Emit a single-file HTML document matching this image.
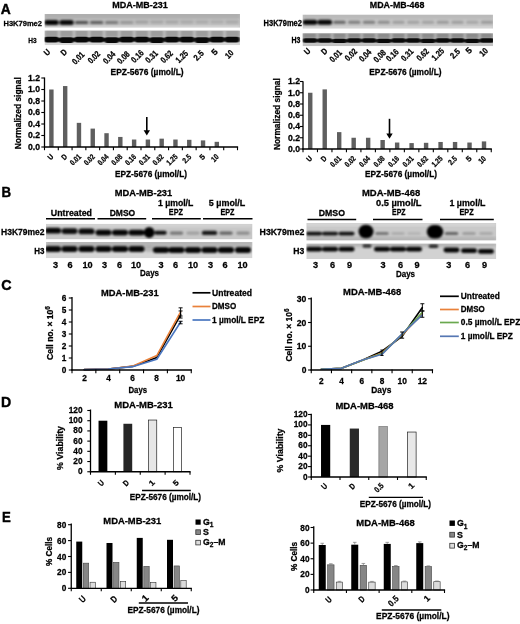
<!DOCTYPE html>
<html><head><meta charset="utf-8"><title>Figure</title>
<style>
html,body{margin:0;padding:0;background:#fff;}
body{width:520px;height:624px;overflow:hidden;}
svg{display:block;}
text{font-family:"Liberation Sans",sans-serif;font-weight:bold;fill:#000;stroke:#000;stroke-width:0.26px;}
text.P{stroke-width:0.42px;}
</style></head><body>
<svg width="520" height="624" viewBox="0 0 520 624">
<defs>
<filter id="b1" x="-20%" y="-50%" width="140%" height="200%"><feGaussianBlur stdDeviation="1.1 0.9"/></filter>
<filter id="b2" x="-30%" y="-30%" width="160%" height="160%"><feGaussianBlur stdDeviation="1.6"/></filter>
<filter id="b0" x="-20%" y="-50%" width="140%" height="200%"><feGaussianBlur stdDeviation="0.8 0.6"/></filter>
<filter id="soft"><feGaussianBlur stdDeviation="0.35"/></filter>
</defs>
<rect width="520" height="624" fill="#fff"/>
<text x="0.70" y="14.40" font-size="14.3" class="P" textLength="10.00" lengthAdjust="spacingAndGlyphs">A</text>
<text x="1.60" y="196.70" font-size="14.4" class="P" textLength="9.60" lengthAdjust="spacingAndGlyphs">B</text>
<text x="1.30" y="290.00" font-size="14.3" class="P" textLength="10.30" lengthAdjust="spacingAndGlyphs">C</text>
<text x="1.00" y="407.30" font-size="14.4" class="P" textLength="10.20" lengthAdjust="spacingAndGlyphs">D</text>
<text x="2.10" y="522.00" font-size="14.4" class="P" textLength="8.80" lengthAdjust="spacingAndGlyphs">E</text>
<text x="112.30" y="8.20" font-size="9" textLength="55.60" lengthAdjust="spacingAndGlyphs">MDA-MB-231</text>
<text x="3.50" y="26.00" font-size="8" textLength="38.50" lengthAdjust="spacingAndGlyphs">H3K79me2</text>
<text x="28.30" y="42.60" font-size="8" textLength="8.40" lengthAdjust="spacingAndGlyphs">H3</text>
<clipPath id="c44_14"><rect x="44.5" y="14" width="195.5" height="13.8"/></clipPath>
<g clip-path="url(#c44_14)">
<rect x="44.50" y="14.00" width="195.50" height="13.80" fill="#c3c3c3" />
<rect x="44.50" y="26.30" width="195.50" height="2.70" fill="#fff" opacity="0.45" filter="url(#b2)"/>
<rect x="44.50" y="12.00" width="195.50" height="7.00" fill="#666" opacity="0.22" filter="url(#b2)"/>
<g filter="url(#b1)">
<rect x="44.30" y="20.00" width="14.40" height="5.00" rx="2.50" fill="#000" opacity="0.98"/>
<rect x="59.35" y="20.00" width="14.40" height="5.00" rx="2.50" fill="#000" opacity="0.95"/>
<rect x="74.85" y="20.90" width="13.50" height="3.20" rx="1.60" fill="#000" opacity="0.6"/>
<rect x="89.90" y="20.90" width="13.50" height="3.20" rx="1.60" fill="#000" opacity="0.52"/>
<rect x="104.95" y="20.90" width="13.50" height="3.20" rx="1.60" fill="#000" opacity="0.38"/>
<rect x="120.00" y="21.20" width="13.50" height="2.60" rx="1.30" fill="#000" opacity="0.27"/>
<rect x="135.05" y="20.80" width="13.50" height="2.60" rx="1.30" fill="#000" opacity="0.2"/>
<rect x="150.10" y="20.80" width="13.50" height="2.60" rx="1.30" fill="#000" opacity="0.17"/>
<rect x="165.15" y="20.80" width="13.50" height="2.60" rx="1.30" fill="#000" opacity="0.17"/>
<rect x="180.20" y="20.80" width="13.50" height="2.60" rx="1.30" fill="#000" opacity="0.15"/>
<rect x="195.25" y="20.80" width="13.50" height="2.60" rx="1.30" fill="#000" opacity="0.14"/>
<rect x="210.30" y="20.80" width="13.50" height="2.60" rx="1.30" fill="#000" opacity="0.13"/>
<rect x="225.35" y="20.80" width="13.50" height="2.60" rx="1.30" fill="#000" opacity="0.15"/>
</g></g>
<clipPath id="c44_30"><rect x="44.5" y="30.6" width="195.5" height="14.600000000000001"/></clipPath>
<g clip-path="url(#c44_30)">
<rect x="44.50" y="30.60" width="195.50" height="14.60" fill="#d6d6d6" />
<rect x="44.50" y="29.00" width="195.50" height="9.00" fill="#777" opacity="0.6" filter="url(#b2)"/>
<g filter="url(#b0)">
<rect x="57.90" y="30.60" width="2.20" height="8.00" fill="#fff" opacity="0.4"/>
<rect x="72.95" y="30.60" width="2.20" height="8.00" fill="#fff" opacity="0.4"/>
<rect x="88.00" y="30.60" width="2.20" height="8.00" fill="#fff" opacity="0.4"/>
<rect x="103.05" y="30.60" width="2.20" height="8.00" fill="#fff" opacity="0.4"/>
<rect x="118.10" y="30.60" width="2.20" height="8.00" fill="#fff" opacity="0.4"/>
<rect x="133.15" y="30.60" width="2.20" height="8.00" fill="#fff" opacity="0.4"/>
<rect x="148.20" y="30.60" width="2.20" height="8.00" fill="#fff" opacity="0.4"/>
<rect x="163.25" y="30.60" width="2.20" height="8.00" fill="#fff" opacity="0.4"/>
<rect x="178.30" y="30.60" width="2.20" height="8.00" fill="#fff" opacity="0.4"/>
<rect x="193.35" y="30.60" width="2.20" height="8.00" fill="#fff" opacity="0.4"/>
<rect x="208.40" y="30.60" width="2.20" height="8.00" fill="#fff" opacity="0.4"/>
<rect x="223.45" y="30.60" width="2.20" height="8.00" fill="#fff" opacity="0.4"/>
</g>
<g filter="url(#b0)">
<rect x="43.80" y="36.80" width="15.40" height="5.60" rx="2.80" fill="#000" opacity="0.96"/>
<rect x="58.85" y="37.30" width="15.40" height="5.60" rx="2.80" fill="#000" opacity="0.96"/>
<rect x="73.90" y="36.80" width="15.40" height="5.60" rx="2.80" fill="#000" opacity="0.96"/>
<rect x="88.95" y="36.80" width="15.40" height="5.60" rx="2.80" fill="#000" opacity="0.96"/>
<rect x="104.00" y="37.30" width="15.40" height="5.60" rx="2.80" fill="#000" opacity="0.96"/>
<rect x="119.05" y="36.80" width="15.40" height="5.60" rx="2.80" fill="#000" opacity="0.96"/>
<rect x="134.10" y="36.80" width="15.40" height="5.60" rx="2.80" fill="#000" opacity="0.96"/>
<rect x="149.15" y="37.30" width="15.40" height="5.60" rx="2.80" fill="#000" opacity="0.96"/>
<rect x="164.20" y="36.80" width="15.40" height="5.60" rx="2.80" fill="#000" opacity="0.96"/>
<rect x="179.25" y="36.80" width="15.40" height="5.60" rx="2.80" fill="#000" opacity="0.96"/>
<rect x="194.30" y="37.30" width="15.40" height="5.60" rx="2.80" fill="#000" opacity="0.96"/>
<rect x="209.35" y="36.80" width="15.40" height="5.60" rx="2.80" fill="#000" opacity="0.96"/>
<rect x="224.40" y="36.80" width="15.40" height="5.60" rx="2.80" fill="#000" opacity="0.96"/>
</g></g>
<text transform="translate(50.80,52.60) rotate(-45)" x="-5.18" y="0" font-size="8.6" textLength="5.18" lengthAdjust="spacingAndGlyphs">U</text>
<text transform="translate(67.60,52.60) rotate(-45)" x="-5.18" y="0" font-size="8.6" textLength="5.18" lengthAdjust="spacingAndGlyphs">D</text>
<text transform="translate(85.00,55.30) rotate(-45)" x="-13.61" y="0" font-size="8.6" textLength="13.61" lengthAdjust="spacingAndGlyphs">0.01</text>
<text transform="translate(100.80,54.40) rotate(-45)" x="-13.61" y="0" font-size="8.6" textLength="13.61" lengthAdjust="spacingAndGlyphs">0.02</text>
<text transform="translate(116.00,54.80) rotate(-45)" x="-13.61" y="0" font-size="8.6" textLength="13.61" lengthAdjust="spacingAndGlyphs">0.04</text>
<text transform="translate(130.20,54.80) rotate(-45)" x="-13.61" y="0" font-size="8.6" textLength="13.61" lengthAdjust="spacingAndGlyphs">0.08</text>
<text transform="translate(144.20,53.60) rotate(-45)" x="-13.61" y="0" font-size="8.6" textLength="13.61" lengthAdjust="spacingAndGlyphs">0.16</text>
<text transform="translate(158.40,54.00) rotate(-45)" x="-13.61" y="0" font-size="8.6" textLength="13.61" lengthAdjust="spacingAndGlyphs">0.31</text>
<text transform="translate(173.50,53.90) rotate(-45)" x="-13.61" y="0" font-size="8.6" textLength="13.61" lengthAdjust="spacingAndGlyphs">0.62</text>
<text transform="translate(188.70,53.90) rotate(-45)" x="-13.61" y="0" font-size="8.6" textLength="13.61" lengthAdjust="spacingAndGlyphs">1.25</text>
<text transform="translate(204.40,53.90) rotate(-45)" x="-10.37" y="0" font-size="8.6" textLength="10.37" lengthAdjust="spacingAndGlyphs">2.5</text>
<text transform="translate(218.50,52.30) rotate(-45)" x="-5.18" y="0" font-size="8.6" textLength="5.18" lengthAdjust="spacingAndGlyphs">5</text>
<text transform="translate(234.20,53.40) rotate(-45)" x="-8.21" y="0" font-size="8.6" textLength="8.21" lengthAdjust="spacingAndGlyphs">10</text>
<text x="110.60" y="74.60" font-size="8.6" textLength="73.00" lengthAdjust="spacingAndGlyphs">EPZ-5676 (µmol/L)</text>
<text x="369.80" y="8.20" font-size="9" textLength="54.60" lengthAdjust="spacingAndGlyphs">MDA-MB-468</text>
<text x="263.60" y="25.70" font-size="8.2" textLength="38.30" lengthAdjust="spacingAndGlyphs">H3K79me2</text>
<text x="291.60" y="43.10" font-size="8.2" textLength="8.90" lengthAdjust="spacingAndGlyphs">H3</text>
<clipPath id="c302_14"><rect x="302.5" y="14.6" width="190.5" height="14.1"/></clipPath>
<g clip-path="url(#c302_14)">
<rect x="302.50" y="14.60" width="190.50" height="14.10" fill="#c8c8c8" />
<rect x="302.50" y="27.00" width="190.50" height="3.00" fill="#fff" opacity="0.35" filter="url(#b2)"/>
<rect x="302.50" y="13.00" width="190.50" height="6.00" fill="#666" opacity="0.15" filter="url(#b2)"/>
<g filter="url(#b1)">
<rect x="302.70" y="19.80" width="14.60" height="5.00" rx="2.50" fill="#000" opacity="0.98"/>
<rect x="317.45" y="19.80" width="14.60" height="5.00" rx="2.50" fill="#000" opacity="0.96"/>
<rect x="333.25" y="20.80" width="12.50" height="3.00" rx="1.50" fill="#000" opacity="0.5"/>
<rect x="348.00" y="20.80" width="12.50" height="3.00" rx="1.50" fill="#000" opacity="0.38"/>
<rect x="362.75" y="20.80" width="12.50" height="3.00" rx="1.50" fill="#000" opacity="0.38"/>
<rect x="377.50" y="20.80" width="12.50" height="3.00" rx="1.50" fill="#000" opacity="0.3"/>
<rect x="392.25" y="20.80" width="12.50" height="3.00" rx="1.50" fill="#000" opacity="0.22"/>
<rect x="407.00" y="20.80" width="12.50" height="3.00" rx="1.50" fill="#000" opacity="0.2"/>
<rect x="421.75" y="20.80" width="12.50" height="3.00" rx="1.50" fill="#000" opacity="0.2"/>
<rect x="436.50" y="20.80" width="12.50" height="3.00" rx="1.50" fill="#000" opacity="0.24"/>
<rect x="451.25" y="20.80" width="12.50" height="3.00" rx="1.50" fill="#000" opacity="0.22"/>
<rect x="466.00" y="20.80" width="12.50" height="3.00" rx="1.50" fill="#000" opacity="0.18"/>
<rect x="480.75" y="20.80" width="12.50" height="3.00" rx="1.50" fill="#000" opacity="0.24"/>
</g></g>
<clipPath id="c302_33"><rect x="302.5" y="33.2" width="190.5" height="13.0"/></clipPath>
<g clip-path="url(#c302_33)">
<rect x="302.50" y="33.20" width="190.50" height="13.00" fill="#c2c2c2" />
<rect x="302.50" y="32.00" width="190.50" height="7.00" fill="#666" opacity="0.6" filter="url(#b2)"/>
<g filter="url(#b0)">
<rect x="316.30" y="33.20" width="2.20" height="6.30" fill="#fff" opacity="0.4"/>
<rect x="331.05" y="33.20" width="2.20" height="6.30" fill="#fff" opacity="0.4"/>
<rect x="345.80" y="33.20" width="2.20" height="6.30" fill="#fff" opacity="0.4"/>
<rect x="360.55" y="33.20" width="2.20" height="6.30" fill="#fff" opacity="0.4"/>
<rect x="375.30" y="33.20" width="2.20" height="6.30" fill="#fff" opacity="0.4"/>
<rect x="390.05" y="33.20" width="2.20" height="6.30" fill="#fff" opacity="0.4"/>
<rect x="404.80" y="33.20" width="2.20" height="6.30" fill="#fff" opacity="0.4"/>
<rect x="419.55" y="33.20" width="2.20" height="6.30" fill="#fff" opacity="0.4"/>
<rect x="434.30" y="33.20" width="2.20" height="6.30" fill="#fff" opacity="0.4"/>
<rect x="449.05" y="33.20" width="2.20" height="6.30" fill="#fff" opacity="0.4"/>
<rect x="463.80" y="33.20" width="2.20" height="6.30" fill="#fff" opacity="0.4"/>
<rect x="478.55" y="33.20" width="2.20" height="6.30" fill="#fff" opacity="0.4"/>
</g>
<g filter="url(#b0)">
<rect x="302.50" y="38.30" width="15.00" height="4.40" rx="2.20" fill="#000" opacity="0.95"/>
<rect x="317.25" y="38.30" width="15.00" height="4.40" rx="2.20" fill="#000" opacity="0.95"/>
<rect x="332.00" y="38.70" width="15.00" height="4.40" rx="2.20" fill="#000" opacity="0.95"/>
<rect x="346.75" y="38.30" width="15.00" height="4.40" rx="2.20" fill="#000" opacity="0.95"/>
<rect x="361.50" y="38.30" width="15.00" height="4.40" rx="2.20" fill="#000" opacity="0.95"/>
<rect x="376.25" y="38.70" width="15.00" height="4.40" rx="2.20" fill="#000" opacity="0.95"/>
<rect x="391.00" y="38.30" width="15.00" height="4.40" rx="2.20" fill="#000" opacity="0.95"/>
<rect x="405.75" y="38.30" width="15.00" height="4.40" rx="2.20" fill="#000" opacity="0.95"/>
<rect x="420.50" y="38.70" width="15.00" height="4.40" rx="2.20" fill="#000" opacity="0.95"/>
<rect x="435.25" y="38.30" width="15.00" height="4.40" rx="2.20" fill="#000" opacity="0.95"/>
<rect x="450.00" y="38.30" width="15.00" height="4.40" rx="2.20" fill="#000" opacity="0.95"/>
<rect x="464.75" y="38.70" width="15.00" height="4.40" rx="2.20" fill="#000" opacity="0.95"/>
<rect x="479.50" y="38.30" width="15.00" height="4.40" rx="2.20" fill="#000" opacity="0.95"/>
</g></g>
<text transform="translate(311.20,51.70) rotate(-45)" x="-5.18" y="0" font-size="8.6" textLength="5.18" lengthAdjust="spacingAndGlyphs">U</text>
<text transform="translate(328.20,51.70) rotate(-45)" x="-5.18" y="0" font-size="8.6" textLength="5.18" lengthAdjust="spacingAndGlyphs">D</text>
<text transform="translate(342.60,53.20) rotate(-45)" x="-13.61" y="0" font-size="8.6" textLength="13.61" lengthAdjust="spacingAndGlyphs">0.01</text>
<text transform="translate(357.80,51.90) rotate(-45)" x="-13.61" y="0" font-size="8.6" textLength="13.61" lengthAdjust="spacingAndGlyphs">0.02</text>
<text transform="translate(372.00,52.70) rotate(-45)" x="-13.61" y="0" font-size="8.6" textLength="13.61" lengthAdjust="spacingAndGlyphs">0.04</text>
<text transform="translate(386.60,53.30) rotate(-45)" x="-13.61" y="0" font-size="8.6" textLength="13.61" lengthAdjust="spacingAndGlyphs">0.08</text>
<text transform="translate(399.20,52.50) rotate(-45)" x="-13.61" y="0" font-size="8.6" textLength="13.61" lengthAdjust="spacingAndGlyphs">0.16</text>
<text transform="translate(414.00,52.10) rotate(-45)" x="-13.61" y="0" font-size="8.6" textLength="13.61" lengthAdjust="spacingAndGlyphs">0.31</text>
<text transform="translate(429.50,52.00) rotate(-45)" x="-13.61" y="0" font-size="8.6" textLength="13.61" lengthAdjust="spacingAndGlyphs">0.62</text>
<text transform="translate(444.70,51.60) rotate(-45)" x="-13.61" y="0" font-size="8.6" textLength="13.61" lengthAdjust="spacingAndGlyphs">1.25</text>
<text transform="translate(460.80,52.00) rotate(-45)" x="-10.37" y="0" font-size="8.6" textLength="10.37" lengthAdjust="spacingAndGlyphs">2.5</text>
<text transform="translate(472.70,50.80) rotate(-45)" x="-5.18" y="0" font-size="8.6" textLength="5.18" lengthAdjust="spacingAndGlyphs">5</text>
<text transform="translate(488.60,51.30) rotate(-45)" x="-8.21" y="0" font-size="8.6" textLength="8.21" lengthAdjust="spacingAndGlyphs">10</text>
<text x="369.30" y="74.80" font-size="8.6" textLength="72.20" lengthAdjust="spacingAndGlyphs">EPZ-5676 (µmol/L)</text>
<rect x="49.19" y="89.50" width="4.40" height="57.50" fill="#5f5f5f" />
<rect x="62.98" y="86.05" width="4.40" height="60.95" fill="#5f5f5f" />
<rect x="76.76" y="122.85" width="4.40" height="24.15" fill="#5f5f5f" />
<rect x="90.55" y="128.60" width="4.40" height="18.40" fill="#5f5f5f" />
<rect x="104.34" y="133.20" width="4.40" height="13.80" fill="#5f5f5f" />
<rect x="118.12" y="136.94" width="4.40" height="10.06" fill="#5f5f5f" />
<rect x="131.91" y="139.53" width="4.40" height="7.48" fill="#5f5f5f" />
<rect x="145.69" y="139.53" width="4.40" height="7.48" fill="#5f5f5f" />
<rect x="159.48" y="138.66" width="4.40" height="8.34" fill="#5f5f5f" />
<rect x="173.26" y="139.53" width="4.40" height="7.48" fill="#5f5f5f" />
<rect x="187.05" y="139.81" width="4.40" height="7.19" fill="#5f5f5f" />
<rect x="200.84" y="140.39" width="4.40" height="6.61" fill="#5f5f5f" />
<rect x="214.62" y="141.82" width="4.40" height="5.17" fill="#5f5f5f" />
<line x1="44.50" y1="77.50" x2="44.50" y2="147.60" stroke="#000" stroke-width="1.3" />
<line x1="43.90" y1="147.00" x2="238.10" y2="147.00" stroke="#000" stroke-width="1.3" />
<line x1="41.30" y1="147.00" x2="44.50" y2="147.00" stroke="#000" stroke-width="1.1" />
<text x="28.00" y="149.90" font-size="8.2" textLength="12.00" lengthAdjust="spacingAndGlyphs">0.0</text>
<line x1="41.30" y1="135.50" x2="44.50" y2="135.50" stroke="#000" stroke-width="1.1" />
<text x="28.00" y="138.40" font-size="8.2" textLength="12.00" lengthAdjust="spacingAndGlyphs">0.2</text>
<line x1="41.30" y1="124.00" x2="44.50" y2="124.00" stroke="#000" stroke-width="1.1" />
<text x="28.00" y="126.90" font-size="8.2" textLength="12.00" lengthAdjust="spacingAndGlyphs">0.4</text>
<line x1="41.30" y1="112.50" x2="44.50" y2="112.50" stroke="#000" stroke-width="1.1" />
<text x="28.00" y="115.40" font-size="8.2" textLength="12.00" lengthAdjust="spacingAndGlyphs">0.6</text>
<line x1="41.30" y1="101.00" x2="44.50" y2="101.00" stroke="#000" stroke-width="1.1" />
<text x="28.00" y="103.90" font-size="8.2" textLength="12.00" lengthAdjust="spacingAndGlyphs">0.8</text>
<line x1="41.30" y1="89.50" x2="44.50" y2="89.50" stroke="#000" stroke-width="1.1" />
<text x="28.00" y="92.40" font-size="8.2" textLength="12.00" lengthAdjust="spacingAndGlyphs">1.0</text>
<line x1="41.30" y1="78.00" x2="44.50" y2="78.00" stroke="#000" stroke-width="1.1" />
<text x="28.00" y="80.90" font-size="8.2" textLength="12.00" lengthAdjust="spacingAndGlyphs">1.2</text>
<line x1="44.50" y1="147.00" x2="44.50" y2="150.20" stroke="#000" stroke-width="1.1" />
<line x1="58.29" y1="147.00" x2="58.29" y2="150.20" stroke="#000" stroke-width="1.1" />
<line x1="72.07" y1="147.00" x2="72.07" y2="150.20" stroke="#000" stroke-width="1.1" />
<line x1="85.86" y1="147.00" x2="85.86" y2="150.20" stroke="#000" stroke-width="1.1" />
<line x1="99.64" y1="147.00" x2="99.64" y2="150.20" stroke="#000" stroke-width="1.1" />
<line x1="113.43" y1="147.00" x2="113.43" y2="150.20" stroke="#000" stroke-width="1.1" />
<line x1="127.21" y1="147.00" x2="127.21" y2="150.20" stroke="#000" stroke-width="1.1" />
<line x1="141.00" y1="147.00" x2="141.00" y2="150.20" stroke="#000" stroke-width="1.1" />
<line x1="154.79" y1="147.00" x2="154.79" y2="150.20" stroke="#000" stroke-width="1.1" />
<line x1="168.57" y1="147.00" x2="168.57" y2="150.20" stroke="#000" stroke-width="1.1" />
<line x1="182.36" y1="147.00" x2="182.36" y2="150.20" stroke="#000" stroke-width="1.1" />
<line x1="196.14" y1="147.00" x2="196.14" y2="150.20" stroke="#000" stroke-width="1.1" />
<line x1="209.93" y1="147.00" x2="209.93" y2="150.20" stroke="#000" stroke-width="1.1" />
<line x1="223.71" y1="147.00" x2="223.71" y2="150.20" stroke="#000" stroke-width="1.1" />
<line x1="237.50" y1="147.00" x2="237.50" y2="150.20" stroke="#000" stroke-width="1.1" />
<text transform="translate(20.50,113.25) rotate(-90)" x="-36.00" y="0" font-size="9" textLength="72.00" lengthAdjust="spacingAndGlyphs">Normalized signal</text>
<text transform="translate(53.99,157.30) rotate(-45)" x="-4.56" y="0" font-size="7.8" textLength="4.56" lengthAdjust="spacingAndGlyphs">U</text>
<text transform="translate(67.78,157.30) rotate(-45)" x="-4.56" y="0" font-size="7.8" textLength="4.56" lengthAdjust="spacingAndGlyphs">D</text>
<text transform="translate(81.56,157.30) rotate(-45)" x="-11.97" y="0" font-size="7.8" textLength="11.97" lengthAdjust="spacingAndGlyphs">0.01</text>
<text transform="translate(95.35,157.30) rotate(-45)" x="-11.97" y="0" font-size="7.8" textLength="11.97" lengthAdjust="spacingAndGlyphs">0.02</text>
<text transform="translate(109.14,157.30) rotate(-45)" x="-11.97" y="0" font-size="7.8" textLength="11.97" lengthAdjust="spacingAndGlyphs">0.04</text>
<text transform="translate(122.92,157.30) rotate(-45)" x="-11.97" y="0" font-size="7.8" textLength="11.97" lengthAdjust="spacingAndGlyphs">0.08</text>
<text transform="translate(136.71,157.30) rotate(-45)" x="-11.97" y="0" font-size="7.8" textLength="11.97" lengthAdjust="spacingAndGlyphs">0.16</text>
<text transform="translate(150.49,157.30) rotate(-45)" x="-11.97" y="0" font-size="7.8" textLength="11.97" lengthAdjust="spacingAndGlyphs">0.31</text>
<text transform="translate(164.28,157.30) rotate(-45)" x="-11.97" y="0" font-size="7.8" textLength="11.97" lengthAdjust="spacingAndGlyphs">0.62</text>
<text transform="translate(178.06,157.30) rotate(-45)" x="-11.97" y="0" font-size="7.8" textLength="11.97" lengthAdjust="spacingAndGlyphs">1.25</text>
<text transform="translate(191.85,157.30) rotate(-45)" x="-9.12" y="0" font-size="7.8" textLength="9.12" lengthAdjust="spacingAndGlyphs">2.5</text>
<text transform="translate(205.64,157.30) rotate(-45)" x="-4.56" y="0" font-size="7.8" textLength="4.56" lengthAdjust="spacingAndGlyphs">5</text>
<text transform="translate(219.42,157.30) rotate(-45)" x="-7.22" y="0" font-size="7.8" textLength="7.22" lengthAdjust="spacingAndGlyphs">10</text>
<line x1="146.80" y1="117.00" x2="146.80" y2="132.50" stroke="#000" stroke-width="1.6" />
<path d="M143.60,130.30 L150.00,130.30 L146.80,135.50 Z" fill="#000"/>
<rect x="308.04" y="92.75" width="4.40" height="56.25" fill="#5f5f5f" />
<rect x="322.52" y="89.38" width="4.40" height="59.62" fill="#5f5f5f" />
<rect x="337.00" y="132.12" width="4.40" height="16.88" fill="#5f5f5f" />
<rect x="351.48" y="137.75" width="4.40" height="11.25" fill="#5f5f5f" />
<rect x="365.96" y="137.75" width="4.40" height="11.25" fill="#5f5f5f" />
<rect x="380.44" y="140.00" width="4.40" height="9.00" fill="#5f5f5f" />
<rect x="394.93" y="142.53" width="4.40" height="6.47" fill="#5f5f5f" />
<rect x="409.41" y="143.09" width="4.40" height="5.91" fill="#5f5f5f" />
<rect x="423.89" y="142.81" width="4.40" height="6.19" fill="#5f5f5f" />
<rect x="438.37" y="141.97" width="4.40" height="7.03" fill="#5f5f5f" />
<rect x="452.85" y="141.97" width="4.40" height="7.03" fill="#5f5f5f" />
<rect x="467.33" y="142.53" width="4.40" height="6.47" fill="#5f5f5f" />
<rect x="481.81" y="141.41" width="4.40" height="7.59" fill="#5f5f5f" />
<line x1="303.00" y1="81.20" x2="303.00" y2="149.60" stroke="#000" stroke-width="1.3" />
<line x1="302.40" y1="149.00" x2="491.85" y2="149.00" stroke="#000" stroke-width="1.3" />
<line x1="299.80" y1="149.00" x2="303.00" y2="149.00" stroke="#000" stroke-width="1.1" />
<text x="288.00" y="151.90" font-size="8.2" textLength="12.00" lengthAdjust="spacingAndGlyphs">0.0</text>
<line x1="299.80" y1="137.75" x2="303.00" y2="137.75" stroke="#000" stroke-width="1.1" />
<text x="288.00" y="140.65" font-size="8.2" textLength="12.00" lengthAdjust="spacingAndGlyphs">0.2</text>
<line x1="299.80" y1="126.50" x2="303.00" y2="126.50" stroke="#000" stroke-width="1.1" />
<text x="288.00" y="129.40" font-size="8.2" textLength="12.00" lengthAdjust="spacingAndGlyphs">0.4</text>
<line x1="299.80" y1="115.25" x2="303.00" y2="115.25" stroke="#000" stroke-width="1.1" />
<text x="288.00" y="118.15" font-size="8.2" textLength="12.00" lengthAdjust="spacingAndGlyphs">0.6</text>
<line x1="299.80" y1="104.00" x2="303.00" y2="104.00" stroke="#000" stroke-width="1.1" />
<text x="288.00" y="106.90" font-size="8.2" textLength="12.00" lengthAdjust="spacingAndGlyphs">0.8</text>
<line x1="299.80" y1="92.75" x2="303.00" y2="92.75" stroke="#000" stroke-width="1.1" />
<text x="288.00" y="95.65" font-size="8.2" textLength="12.00" lengthAdjust="spacingAndGlyphs">1.0</text>
<line x1="299.80" y1="81.50" x2="303.00" y2="81.50" stroke="#000" stroke-width="1.1" />
<text x="288.00" y="84.40" font-size="8.2" textLength="12.00" lengthAdjust="spacingAndGlyphs">1.2</text>
<line x1="303.00" y1="149.00" x2="303.00" y2="152.20" stroke="#000" stroke-width="1.1" />
<line x1="317.48" y1="149.00" x2="317.48" y2="152.20" stroke="#000" stroke-width="1.1" />
<line x1="331.96" y1="149.00" x2="331.96" y2="152.20" stroke="#000" stroke-width="1.1" />
<line x1="346.44" y1="149.00" x2="346.44" y2="152.20" stroke="#000" stroke-width="1.1" />
<line x1="360.92" y1="149.00" x2="360.92" y2="152.20" stroke="#000" stroke-width="1.1" />
<line x1="375.40" y1="149.00" x2="375.40" y2="152.20" stroke="#000" stroke-width="1.1" />
<line x1="389.88" y1="149.00" x2="389.88" y2="152.20" stroke="#000" stroke-width="1.1" />
<line x1="404.37" y1="149.00" x2="404.37" y2="152.20" stroke="#000" stroke-width="1.1" />
<line x1="418.85" y1="149.00" x2="418.85" y2="152.20" stroke="#000" stroke-width="1.1" />
<line x1="433.33" y1="149.00" x2="433.33" y2="152.20" stroke="#000" stroke-width="1.1" />
<line x1="447.81" y1="149.00" x2="447.81" y2="152.20" stroke="#000" stroke-width="1.1" />
<line x1="462.29" y1="149.00" x2="462.29" y2="152.20" stroke="#000" stroke-width="1.1" />
<line x1="476.77" y1="149.00" x2="476.77" y2="152.20" stroke="#000" stroke-width="1.1" />
<line x1="491.25" y1="149.00" x2="491.25" y2="152.20" stroke="#000" stroke-width="1.1" />
<text transform="translate(279.50,114.10) rotate(-90)" x="-36.00" y="0" font-size="9" textLength="72.00" lengthAdjust="spacingAndGlyphs">Normalized signal</text>
<text transform="translate(312.84,159.10) rotate(-45)" x="-4.56" y="0" font-size="7.8" textLength="4.56" lengthAdjust="spacingAndGlyphs">U</text>
<text transform="translate(327.32,159.10) rotate(-45)" x="-4.56" y="0" font-size="7.8" textLength="4.56" lengthAdjust="spacingAndGlyphs">D</text>
<text transform="translate(341.80,159.10) rotate(-45)" x="-11.97" y="0" font-size="7.8" textLength="11.97" lengthAdjust="spacingAndGlyphs">0.01</text>
<text transform="translate(356.28,159.10) rotate(-45)" x="-11.97" y="0" font-size="7.8" textLength="11.97" lengthAdjust="spacingAndGlyphs">0.02</text>
<text transform="translate(370.76,159.10) rotate(-45)" x="-11.97" y="0" font-size="7.8" textLength="11.97" lengthAdjust="spacingAndGlyphs">0.04</text>
<text transform="translate(385.24,159.10) rotate(-45)" x="-11.97" y="0" font-size="7.8" textLength="11.97" lengthAdjust="spacingAndGlyphs">0.08</text>
<text transform="translate(399.73,159.10) rotate(-45)" x="-11.97" y="0" font-size="7.8" textLength="11.97" lengthAdjust="spacingAndGlyphs">0.16</text>
<text transform="translate(414.21,159.10) rotate(-45)" x="-11.97" y="0" font-size="7.8" textLength="11.97" lengthAdjust="spacingAndGlyphs">0.31</text>
<text transform="translate(428.69,159.10) rotate(-45)" x="-11.97" y="0" font-size="7.8" textLength="11.97" lengthAdjust="spacingAndGlyphs">0.62</text>
<text transform="translate(443.17,159.10) rotate(-45)" x="-11.97" y="0" font-size="7.8" textLength="11.97" lengthAdjust="spacingAndGlyphs">1.25</text>
<text transform="translate(457.65,159.10) rotate(-45)" x="-9.12" y="0" font-size="7.8" textLength="9.12" lengthAdjust="spacingAndGlyphs">2.5</text>
<text transform="translate(472.13,159.10) rotate(-45)" x="-4.56" y="0" font-size="7.8" textLength="4.56" lengthAdjust="spacingAndGlyphs">5</text>
<text transform="translate(486.61,159.10) rotate(-45)" x="-7.22" y="0" font-size="7.8" textLength="7.22" lengthAdjust="spacingAndGlyphs">10</text>
<line x1="389.50" y1="118.80" x2="389.50" y2="135.80" stroke="#000" stroke-width="1.6" />
<path d="M386.30,133.60 L392.70,133.60 L389.50,138.80 Z" fill="#000"/>
<text x="114.80" y="196.00" font-size="9" textLength="57.40" lengthAdjust="spacingAndGlyphs">MDA-MB-231</text>
<text x="50.80" y="215.50" font-size="8.8" textLength="41.20" lengthAdjust="spacingAndGlyphs">Untreated</text>
<text x="109.70" y="215.50" font-size="8.8" textLength="25.50" lengthAdjust="spacingAndGlyphs">DMSO</text>
<text x="158.00" y="206.30" font-size="8.8" textLength="35.30" lengthAdjust="spacingAndGlyphs">1 µmol/L</text>
<text x="168.80" y="215.00" font-size="8.8" textLength="14.20" lengthAdjust="spacingAndGlyphs">EPZ</text>
<text x="208.80" y="206.30" font-size="8.8" textLength="36.50" lengthAdjust="spacingAndGlyphs">5 µmol/L</text>
<text x="220.50" y="215.00" font-size="8.8" textLength="14.00" lengthAdjust="spacingAndGlyphs">EPZ</text>
<line x1="46.00" y1="218.80" x2="95.00" y2="218.80" stroke="#000" stroke-width="1.5" />
<line x1="97.50" y1="218.80" x2="146.20" y2="218.80" stroke="#000" stroke-width="1.5" />
<line x1="152.00" y1="218.80" x2="200.80" y2="218.80" stroke="#000" stroke-width="1.5" />
<line x1="203.00" y1="218.80" x2="252.50" y2="218.80" stroke="#000" stroke-width="1.5" />
<text x="1.00" y="235.10" font-size="8.8" textLength="43.60" lengthAdjust="spacingAndGlyphs">H3K79me2</text>
<text x="34.20" y="254.20" font-size="8.8" textLength="10.20" lengthAdjust="spacingAndGlyphs">H3</text>
<clipPath id="c46_223"><rect x="46" y="223.8" width="206.5" height="15.599999999999994"/></clipPath>
<g clip-path="url(#c46_223)">
<rect x="46.00" y="223.80" width="206.50" height="15.60" fill="#c8c8c8" />
<rect x="46.00" y="223.80" width="206.50" height="2.70" fill="#fff" opacity="0.3" filter="url(#b2)"/>
<g filter="url(#b1)">
<rect x="45.00" y="227.80" width="16.00" height="5.80" rx="2.90" fill="#000" opacity="0.97"/>
<rect x="61.50" y="228.15" width="16.00" height="5.80" rx="2.90" fill="#000" opacity="0.93"/>
<rect x="78.50" y="228.50" width="16.00" height="5.80" rx="2.90" fill="#000" opacity="0.95"/>
<rect x="95.50" y="229.70" width="16.00" height="5.80" rx="2.90" fill="#000" opacity="0.97"/>
<rect x="112.00" y="229.70" width="16.00" height="5.80" rx="2.90" fill="#000" opacity="0.97"/>
<rect x="128.50" y="229.70" width="16.00" height="5.80" rx="2.90" fill="#000" opacity="0.97"/>
<rect x="154.25" y="230.70" width="12.50" height="4.00" rx="2.00" fill="#000" opacity="0.92"/>
<rect x="169.75" y="231.40" width="13.50" height="3.40" rx="1.70" fill="#000" opacity="0.42"/>
<rect x="186.25" y="231.40" width="13.50" height="3.40" rx="1.70" fill="#000" opacity="0.2"/>
<rect x="201.75" y="230.70" width="15.50" height="4.40" rx="2.20" fill="#000" opacity="0.88"/>
<rect x="219.25" y="231.40" width="13.50" height="3.40" rx="1.70" fill="#000" opacity="0.5"/>
<rect x="236.25" y="231.40" width="13.50" height="3.40" rx="1.70" fill="#000" opacity="0.3"/>
<rect x="143.95" y="226.90" width="10.50" height="11.00" rx="5.50" fill="#000" opacity="1.0"/>
</g></g>
<clipPath id="c46_242"><rect x="46" y="242" width="206.5" height="16.30000000000001"/></clipPath>
<g clip-path="url(#c46_242)">
<rect x="46.00" y="242.00" width="206.50" height="16.30" fill="#d6d6d6" />
<rect x="46.00" y="240.00" width="206.50" height="7.00" fill="#777" opacity="0.35" filter="url(#b2)"/>
<g filter="url(#b1)">
<rect x="44.90" y="246.00" width="16.20" height="6.00" rx="3.00" fill="#000" opacity="0.97"/>
<rect x="61.40" y="246.00" width="16.20" height="6.00" rx="3.00" fill="#000" opacity="0.97"/>
<rect x="78.40" y="246.00" width="16.20" height="6.00" rx="3.00" fill="#000" opacity="0.97"/>
<rect x="95.40" y="246.00" width="16.20" height="6.00" rx="3.00" fill="#000" opacity="0.97"/>
<rect x="111.90" y="246.00" width="16.20" height="6.00" rx="3.00" fill="#000" opacity="0.97"/>
<rect x="128.40" y="246.00" width="16.20" height="6.00" rx="3.00" fill="#000" opacity="0.97"/>
<rect x="152.90" y="247.00" width="16.20" height="6.00" rx="3.00" fill="#000" opacity="0.97"/>
<rect x="168.40" y="247.00" width="16.20" height="6.00" rx="3.00" fill="#000" opacity="0.97"/>
<rect x="184.90" y="247.00" width="16.20" height="6.00" rx="3.00" fill="#000" opacity="0.97"/>
<rect x="201.40" y="247.00" width="16.20" height="6.00" rx="3.00" fill="#000" opacity="0.97"/>
<rect x="217.90" y="247.00" width="16.20" height="6.00" rx="3.00" fill="#000" opacity="0.97"/>
<rect x="234.90" y="247.00" width="16.20" height="6.00" rx="3.00" fill="#000" opacity="0.97"/>
<rect x="144.50" y="246.00" width="9.00" height="6.00" rx="3.00" fill="#000" opacity="0.15"/>
</g></g>
<text x="52.95" y="268.00" font-size="9.5" textLength="5.10" lengthAdjust="spacingAndGlyphs">3</text>
<text x="67.45" y="268.00" font-size="9.5" textLength="5.10" lengthAdjust="spacingAndGlyphs">6</text>
<text x="82.40" y="268.00" font-size="9.5" textLength="10.20" lengthAdjust="spacingAndGlyphs">10</text>
<text x="101.95" y="268.00" font-size="9.5" textLength="5.10" lengthAdjust="spacingAndGlyphs">3</text>
<text x="116.95" y="268.00" font-size="9.5" textLength="5.10" lengthAdjust="spacingAndGlyphs">6</text>
<text x="130.90" y="268.00" font-size="9.5" textLength="10.20" lengthAdjust="spacingAndGlyphs">10</text>
<text x="158.45" y="268.00" font-size="9.5" textLength="5.10" lengthAdjust="spacingAndGlyphs">3</text>
<text x="172.95" y="268.00" font-size="9.5" textLength="5.10" lengthAdjust="spacingAndGlyphs">6</text>
<text x="187.90" y="268.00" font-size="9.5" textLength="10.20" lengthAdjust="spacingAndGlyphs">10</text>
<text x="207.95" y="268.00" font-size="9.5" textLength="5.10" lengthAdjust="spacingAndGlyphs">3</text>
<text x="222.45" y="268.00" font-size="9.5" textLength="5.10" lengthAdjust="spacingAndGlyphs">6</text>
<text x="237.40" y="268.00" font-size="9.5" textLength="10.20" lengthAdjust="spacingAndGlyphs">10</text>
<text x="140.00" y="276.30" font-size="9" textLength="19.00" lengthAdjust="spacingAndGlyphs">Days</text>
<text x="362.00" y="196.00" font-size="9" textLength="58.30" lengthAdjust="spacingAndGlyphs">MDA-MB-468</text>
<text x="318.80" y="215.50" font-size="8.8" textLength="26.20" lengthAdjust="spacingAndGlyphs">DMSO</text>
<text x="376.00" y="205.70" font-size="8.8" textLength="45.50" lengthAdjust="spacingAndGlyphs">0.5 µmol/L</text>
<text x="392.00" y="215.00" font-size="8.8" textLength="13.50" lengthAdjust="spacingAndGlyphs">EPZ</text>
<text x="449.50" y="206.00" font-size="8.8" textLength="36.00" lengthAdjust="spacingAndGlyphs">1 µmol/L</text>
<text x="459.50" y="215.00" font-size="8.8" textLength="14.20" lengthAdjust="spacingAndGlyphs">EPZ</text>
<line x1="307.50" y1="219.50" x2="356.20" y2="219.50" stroke="#000" stroke-width="1.5" />
<line x1="373.00" y1="219.50" x2="422.50" y2="219.50" stroke="#000" stroke-width="1.5" />
<line x1="440.00" y1="219.50" x2="493.80" y2="219.50" stroke="#000" stroke-width="1.5" />
<text x="259.60" y="235.20" font-size="9" textLength="44.80" lengthAdjust="spacingAndGlyphs">H3K79me2</text>
<text x="293.30" y="253.80" font-size="8.8" textLength="11.00" lengthAdjust="spacingAndGlyphs">H3</text>
<clipPath id="c306_223"><rect x="306.3" y="223" width="190.0" height="17.599999999999994"/></clipPath>
<g clip-path="url(#c306_223)">
<rect x="306.30" y="223.00" width="190.00" height="17.60" fill="#c9c9c9" />
<rect x="306.30" y="223.00" width="190.00" height="3.00" fill="#fff" opacity="0.3" filter="url(#b2)"/>
<rect x="306.30" y="237.50" width="190.00" height="3.50" fill="#777" opacity="0.3" filter="url(#b2)"/>
<g filter="url(#b1)">
<rect x="306.00" y="231.70" width="16.00" height="3.80" rx="1.90" fill="#000" opacity="0.93"/>
<rect x="322.00" y="231.70" width="16.00" height="3.80" rx="1.90" fill="#000" opacity="0.9"/>
<rect x="338.50" y="231.70" width="16.00" height="3.80" rx="1.90" fill="#000" opacity="0.92"/>
<rect x="375.25" y="232.10" width="13.50" height="3.00" rx="1.50" fill="#000" opacity="0.42"/>
<rect x="391.25" y="232.10" width="13.50" height="3.00" rx="1.50" fill="#000" opacity="0.14"/>
<rect x="407.25" y="232.10" width="13.50" height="3.00" rx="1.50" fill="#000" opacity="0.1"/>
<rect x="444.75" y="232.10" width="13.50" height="3.00" rx="1.50" fill="#000" opacity="0.5"/>
<rect x="462.25" y="232.10" width="13.50" height="3.00" rx="1.50" fill="#000" opacity="0.22"/>
<rect x="479.25" y="232.10" width="13.50" height="3.00" rx="1.50" fill="#000" opacity="0.16"/>
<rect x="358.50" y="224.75" width="15.00" height="13.50" rx="6.75" fill="#000" opacity="1.0"/>
<rect x="426.75" y="224.95" width="16.50" height="13.50" rx="6.75" fill="#000" opacity="1.0"/>
</g></g>
<clipPath id="c306_243"><rect x="306.3" y="243.5" width="190.0" height="15.5"/></clipPath>
<g clip-path="url(#c306_243)">
<rect x="306.30" y="243.50" width="190.00" height="15.50" fill="#d2d2d2" />
<rect x="306.30" y="242.00" width="190.00" height="5.00" fill="#777" opacity="0.3" filter="url(#b2)"/>
<g filter="url(#b1)">
<rect x="306.00" y="246.80" width="16.00" height="4.80" rx="2.40" fill="#000" opacity="0.97"/>
<rect x="322.00" y="246.80" width="16.00" height="4.80" rx="2.40" fill="#000" opacity="0.97"/>
<rect x="338.50" y="246.80" width="16.00" height="4.80" rx="2.40" fill="#000" opacity="0.97"/>
<rect x="374.00" y="246.80" width="16.00" height="4.80" rx="2.40" fill="#000" opacity="0.97"/>
<rect x="390.00" y="246.80" width="16.00" height="4.80" rx="2.40" fill="#000" opacity="0.97"/>
<rect x="406.00" y="246.80" width="16.00" height="4.80" rx="2.40" fill="#000" opacity="0.97"/>
<rect x="443.50" y="247.60" width="16.00" height="4.80" rx="2.40" fill="#000" opacity="0.97"/>
<rect x="461.00" y="248.30" width="16.00" height="4.80" rx="2.40" fill="#000" opacity="0.97"/>
<rect x="478.00" y="249.00" width="16.00" height="4.80" rx="2.40" fill="#000" opacity="0.97"/>
<rect x="362.50" y="244.30" width="9.00" height="3.40" rx="1.70" fill="#000" opacity="0.75"/>
<rect x="428.75" y="244.40" width="9.50" height="3.60" rx="1.80" fill="#000" opacity="0.8"/>
</g></g>
<text x="312.95" y="268.00" font-size="9.5" textLength="5.10" lengthAdjust="spacingAndGlyphs">3</text>
<text x="329.95" y="268.00" font-size="9.5" textLength="5.10" lengthAdjust="spacingAndGlyphs">6</text>
<text x="346.95" y="268.00" font-size="9.5" textLength="5.10" lengthAdjust="spacingAndGlyphs">9</text>
<text x="380.45" y="268.00" font-size="9.5" textLength="5.10" lengthAdjust="spacingAndGlyphs">3</text>
<text x="397.95" y="268.00" font-size="9.5" textLength="5.10" lengthAdjust="spacingAndGlyphs">6</text>
<text x="414.45" y="268.00" font-size="9.5" textLength="5.10" lengthAdjust="spacingAndGlyphs">9</text>
<text x="446.25" y="268.00" font-size="9.5" textLength="5.10" lengthAdjust="spacingAndGlyphs">3</text>
<text x="464.95" y="268.00" font-size="9.5" textLength="5.10" lengthAdjust="spacingAndGlyphs">6</text>
<text x="481.95" y="268.00" font-size="9.5" textLength="5.10" lengthAdjust="spacingAndGlyphs">9</text>
<text x="396.00" y="277.00" font-size="9" textLength="19.00" lengthAdjust="spacingAndGlyphs">Days</text>
<text x="101.00" y="296.30" font-size="9" textLength="57.60" lengthAdjust="spacingAndGlyphs">MDA-MB-231</text>
<polyline points="84.30,369.64 108.30,369.04 132.50,366.40 156.80,357.40 180.60,314.80" fill="none" stroke="#000" stroke-width="1.6" stroke-linejoin="round" stroke-linecap="round"/>
<polyline points="84.30,369.64 108.30,369.04 132.50,366.16 156.80,355.60 180.60,311.80" fill="none" stroke="#e9813a" stroke-width="1.6" stroke-linejoin="round" stroke-linecap="round"/>
<polyline points="84.30,369.64 108.30,369.04 132.50,366.64 156.80,359.20 180.60,322.00" fill="none" stroke="#4a76c0" stroke-width="1.6" stroke-linejoin="round" stroke-linecap="round"/>
<line x1="180.60" y1="307.84" x2="180.60" y2="316.00" stroke="#000" stroke-width="0.95" />
<line x1="178.60" y1="307.84" x2="182.60" y2="307.84" stroke="#000" stroke-width="0.95" />
<line x1="178.60" y1="316.00" x2="182.60" y2="316.00" stroke="#000" stroke-width="0.95" />
<line x1="180.60" y1="310.96" x2="180.60" y2="318.04" stroke="#000" stroke-width="0.95" />
<line x1="178.60" y1="310.96" x2="182.60" y2="310.96" stroke="#000" stroke-width="0.95" />
<line x1="178.60" y1="318.04" x2="182.60" y2="318.04" stroke="#000" stroke-width="0.95" />
<line x1="180.60" y1="321.28" x2="180.60" y2="323.80" stroke="#000" stroke-width="0.95" />
<line x1="178.60" y1="321.28" x2="182.60" y2="321.28" stroke="#000" stroke-width="0.95" />
<line x1="178.60" y1="323.80" x2="182.60" y2="323.80" stroke="#000" stroke-width="0.95" />
<line x1="72.00" y1="297.00" x2="72.00" y2="370.60" stroke="#000" stroke-width="1.3" />
<line x1="71.40" y1="370.00" x2="191.80" y2="370.00" stroke="#000" stroke-width="1.3" />
<line x1="68.80" y1="370.00" x2="72.00" y2="370.00" stroke="#000" stroke-width="1.1" />
<text x="61.70" y="373.00" font-size="8.5" textLength="4.60" lengthAdjust="spacingAndGlyphs">0</text>
<line x1="68.80" y1="358.00" x2="72.00" y2="358.00" stroke="#000" stroke-width="1.1" />
<text x="61.70" y="361.00" font-size="8.5" textLength="4.60" lengthAdjust="spacingAndGlyphs">1</text>
<line x1="68.80" y1="346.00" x2="72.00" y2="346.00" stroke="#000" stroke-width="1.1" />
<text x="61.70" y="349.00" font-size="8.5" textLength="4.60" lengthAdjust="spacingAndGlyphs">2</text>
<line x1="68.80" y1="334.00" x2="72.00" y2="334.00" stroke="#000" stroke-width="1.1" />
<text x="61.70" y="337.00" font-size="8.5" textLength="4.60" lengthAdjust="spacingAndGlyphs">3</text>
<line x1="68.80" y1="322.00" x2="72.00" y2="322.00" stroke="#000" stroke-width="1.1" />
<text x="61.70" y="325.00" font-size="8.5" textLength="4.60" lengthAdjust="spacingAndGlyphs">4</text>
<line x1="68.80" y1="310.00" x2="72.00" y2="310.00" stroke="#000" stroke-width="1.1" />
<text x="61.70" y="313.00" font-size="8.5" textLength="4.60" lengthAdjust="spacingAndGlyphs">5</text>
<line x1="68.80" y1="298.00" x2="72.00" y2="298.00" stroke="#000" stroke-width="1.1" />
<text x="61.70" y="301.00" font-size="8.5" textLength="4.60" lengthAdjust="spacingAndGlyphs">6</text>
<line x1="72.00" y1="369.40" x2="72.00" y2="373.20" stroke="#000" stroke-width="1.1" />
<line x1="95.85" y1="369.40" x2="95.85" y2="373.20" stroke="#000" stroke-width="1.1" />
<line x1="119.70" y1="369.40" x2="119.70" y2="373.20" stroke="#000" stroke-width="1.1" />
<line x1="143.55" y1="369.40" x2="143.55" y2="373.20" stroke="#000" stroke-width="1.1" />
<line x1="167.40" y1="369.40" x2="167.40" y2="373.20" stroke="#000" stroke-width="1.1" />
<line x1="191.25" y1="369.40" x2="191.25" y2="373.20" stroke="#000" stroke-width="1.1" />
<text x="82.30" y="380.70" font-size="8.5" textLength="4.60" lengthAdjust="spacingAndGlyphs">2</text>
<text x="106.30" y="380.70" font-size="8.5" textLength="4.60" lengthAdjust="spacingAndGlyphs">4</text>
<text x="130.30" y="380.70" font-size="8.5" textLength="4.60" lengthAdjust="spacingAndGlyphs">6</text>
<text x="154.30" y="380.70" font-size="8.5" textLength="4.60" lengthAdjust="spacingAndGlyphs">8</text>
<text x="175.90" y="380.70" font-size="8.5" textLength="9.40" lengthAdjust="spacingAndGlyphs">10</text>
<text transform="translate(52.6,360) rotate(-90)" font-size="8.6" textLength="54" lengthAdjust="spacingAndGlyphs">Cell no. × 10<tspan dy="-3" font-size="6.6">6</tspan></text>
<text x="128.50" y="393.00" font-size="9" textLength="18.60" lengthAdjust="spacingAndGlyphs">Days</text>
<line x1="192.50" y1="292.80" x2="210.50" y2="292.80" stroke="#000" stroke-width="1.7" />
<text x="212.00" y="295.60" font-size="8.8" textLength="40.00" lengthAdjust="spacingAndGlyphs">Untreated</text>
<line x1="192.50" y1="306.50" x2="210.50" y2="306.50" stroke="#e9813a" stroke-width="1.7" />
<text x="212.00" y="309.30" font-size="8.8" textLength="24.20" lengthAdjust="spacingAndGlyphs">DMSO</text>
<line x1="192.50" y1="320.00" x2="210.50" y2="320.00" stroke="#4a76c0" stroke-width="1.7" />
<text x="212.00" y="322.80" font-size="8.8" textLength="52.30" lengthAdjust="spacingAndGlyphs">1 µmol/L EPZ</text>
<text x="343.10" y="294.50" font-size="9.2" textLength="58.20" lengthAdjust="spacingAndGlyphs">MDA-MB-468</text>
<polyline points="321.35,369.29 341.55,368.34 361.75,360.50 381.95,351.24 402.15,336.27 422.35,307.54" fill="none" stroke="#000" stroke-width="1.6" stroke-linejoin="round" stroke-linecap="round"/>
<polyline points="321.35,369.29 341.55,368.34 361.75,360.50 381.95,352.90 402.15,334.85 422.35,313.48" fill="none" stroke="#e9813a" stroke-width="1.6" stroke-linejoin="round" stroke-linecap="round"/>
<polyline points="321.35,369.29 341.55,368.34 361.75,360.50 381.95,353.61 402.15,334.38 422.35,312.29" fill="none" stroke="#6aa84f" stroke-width="1.6" stroke-linejoin="round" stroke-linecap="round"/>
<polyline points="321.35,369.29 341.55,368.34 361.75,360.26 381.95,354.32 402.15,333.90 422.35,314.90" fill="none" stroke="#5677b3" stroke-width="1.6" stroke-linejoin="round" stroke-linecap="round"/>
<line x1="422.35" y1="303.74" x2="422.35" y2="311.10" stroke="#000" stroke-width="0.95" />
<line x1="420.35" y1="303.74" x2="424.35" y2="303.74" stroke="#000" stroke-width="0.95" />
<line x1="420.35" y1="311.10" x2="424.35" y2="311.10" stroke="#000" stroke-width="0.95" />
<line x1="422.35" y1="310.86" x2="422.35" y2="317.27" stroke="#000" stroke-width="0.95" />
<line x1="420.35" y1="310.86" x2="424.35" y2="310.86" stroke="#000" stroke-width="0.95" />
<line x1="420.35" y1="317.27" x2="424.35" y2="317.27" stroke="#000" stroke-width="0.95" />
<line x1="402.15" y1="332.00" x2="402.15" y2="338.18" stroke="#000" stroke-width="0.95" />
<line x1="400.15" y1="332.00" x2="404.15" y2="332.00" stroke="#000" stroke-width="0.95" />
<line x1="400.15" y1="338.18" x2="404.15" y2="338.18" stroke="#000" stroke-width="0.95" />
<line x1="381.95" y1="350.05" x2="381.95" y2="355.51" stroke="#000" stroke-width="0.95" />
<line x1="380.35" y1="350.05" x2="383.55" y2="350.05" stroke="#000" stroke-width="0.95" />
<line x1="380.35" y1="355.51" x2="383.55" y2="355.51" stroke="#000" stroke-width="0.95" />
<line x1="311.25" y1="297.50" x2="311.25" y2="370.60" stroke="#000" stroke-width="1.3" />
<line x1="310.65" y1="370.00" x2="433.10" y2="370.00" stroke="#000" stroke-width="1.3" />
<line x1="308.05" y1="370.00" x2="311.25" y2="370.00" stroke="#000" stroke-width="1.1" />
<text x="301.70" y="373.00" font-size="8.6" textLength="4.70" lengthAdjust="spacingAndGlyphs">0</text>
<line x1="308.05" y1="346.25" x2="311.25" y2="346.25" stroke="#000" stroke-width="1.1" />
<text x="296.80" y="349.25" font-size="8.6" textLength="9.60" lengthAdjust="spacingAndGlyphs">10</text>
<line x1="308.05" y1="322.50" x2="311.25" y2="322.50" stroke="#000" stroke-width="1.1" />
<text x="296.80" y="325.50" font-size="8.6" textLength="9.60" lengthAdjust="spacingAndGlyphs">20</text>
<line x1="308.05" y1="298.75" x2="311.25" y2="298.75" stroke="#000" stroke-width="1.1" />
<text x="296.80" y="301.75" font-size="8.6" textLength="9.60" lengthAdjust="spacingAndGlyphs">30</text>
<line x1="311.25" y1="369.40" x2="311.25" y2="373.20" stroke="#000" stroke-width="1.1" />
<line x1="331.45" y1="369.40" x2="331.45" y2="373.20" stroke="#000" stroke-width="1.1" />
<line x1="351.65" y1="369.40" x2="351.65" y2="373.20" stroke="#000" stroke-width="1.1" />
<line x1="371.85" y1="369.40" x2="371.85" y2="373.20" stroke="#000" stroke-width="1.1" />
<line x1="392.05" y1="369.40" x2="392.05" y2="373.20" stroke="#000" stroke-width="1.1" />
<line x1="412.25" y1="369.40" x2="412.25" y2="373.20" stroke="#000" stroke-width="1.1" />
<line x1="432.45" y1="369.40" x2="432.45" y2="373.20" stroke="#000" stroke-width="1.1" />
<text x="319.05" y="383.80" font-size="8.5" textLength="4.60" lengthAdjust="spacingAndGlyphs">2</text>
<text x="339.25" y="383.80" font-size="8.5" textLength="4.60" lengthAdjust="spacingAndGlyphs">4</text>
<text x="359.45" y="383.80" font-size="8.5" textLength="4.60" lengthAdjust="spacingAndGlyphs">6</text>
<text x="379.65" y="383.80" font-size="8.5" textLength="4.60" lengthAdjust="spacingAndGlyphs">8</text>
<text x="397.45" y="383.80" font-size="8.5" textLength="9.40" lengthAdjust="spacingAndGlyphs">10</text>
<text x="417.65" y="383.80" font-size="8.5" textLength="9.40" lengthAdjust="spacingAndGlyphs">12</text>
<text transform="translate(292.3,361.5) rotate(-90)" font-size="8.6" textLength="53" lengthAdjust="spacingAndGlyphs">Cell no. × 10<tspan dy="-3" font-size="6.6">6</tspan></text>
<text x="371.30" y="393.00" font-size="9.4" textLength="20.00" lengthAdjust="spacingAndGlyphs">Days</text>
<line x1="440.00" y1="296.30" x2="458.80" y2="296.30" stroke="#000" stroke-width="1.7" />
<text x="460.80" y="298.90" font-size="8.8" textLength="39.00" lengthAdjust="spacingAndGlyphs">Untreated</text>
<line x1="440.00" y1="309.50" x2="458.80" y2="309.50" stroke="#e9813a" stroke-width="1.7" />
<text x="460.80" y="312.10" font-size="8.8" textLength="24.00" lengthAdjust="spacingAndGlyphs">DMSO</text>
<line x1="440.00" y1="322.50" x2="458.80" y2="322.50" stroke="#6aa84f" stroke-width="1.7" />
<text x="460.80" y="325.10" font-size="8.8" textLength="59.50" lengthAdjust="spacingAndGlyphs">0.5 µmol/L EPZ</text>
<line x1="440.00" y1="336.30" x2="458.80" y2="336.30" stroke="#5677b3" stroke-width="1.7" />
<text x="460.80" y="338.90" font-size="8.8" textLength="52.00" lengthAdjust="spacingAndGlyphs">1 µmol/L EPZ</text>
<rect x="98.54" y="420.71" width="8.80" height="51.04" fill="#000" />
<rect x="123.41" y="423.77" width="8.80" height="47.98" fill="#262626" />
<rect x="148.64" y="420.04" width="8.10" height="51.71" fill="#e6e6e6" stroke="#222" stroke-width="0.7" />
<rect x="173.51" y="427.44" width="8.10" height="44.31" fill="#fff" stroke="#222" stroke-width="0.7" />
<line x1="90.50" y1="409.50" x2="90.50" y2="472.35" stroke="#000" stroke-width="1.3" />
<line x1="89.90" y1="471.75" x2="190.60" y2="471.75" stroke="#000" stroke-width="1.3" />
<line x1="87.30" y1="471.75" x2="90.50" y2="471.75" stroke="#000" stroke-width="1.1" />
<text x="77.90" y="474.25" font-size="8.5" textLength="4.60" lengthAdjust="spacingAndGlyphs">0</text>
<line x1="87.30" y1="461.54" x2="90.50" y2="461.54" stroke="#000" stroke-width="1.1" />
<text x="73.30" y="464.04" font-size="8.5" textLength="9.20" lengthAdjust="spacingAndGlyphs">20</text>
<line x1="87.30" y1="451.33" x2="90.50" y2="451.33" stroke="#000" stroke-width="1.1" />
<text x="73.30" y="453.83" font-size="8.5" textLength="9.20" lengthAdjust="spacingAndGlyphs">40</text>
<line x1="87.30" y1="441.12" x2="90.50" y2="441.12" stroke="#000" stroke-width="1.1" />
<text x="73.30" y="443.62" font-size="8.5" textLength="9.20" lengthAdjust="spacingAndGlyphs">60</text>
<line x1="87.30" y1="430.92" x2="90.50" y2="430.92" stroke="#000" stroke-width="1.1" />
<text x="73.30" y="433.42" font-size="8.5" textLength="9.20" lengthAdjust="spacingAndGlyphs">80</text>
<line x1="87.30" y1="420.71" x2="90.50" y2="420.71" stroke="#000" stroke-width="1.1" />
<text x="68.70" y="423.21" font-size="8.5" textLength="13.80" lengthAdjust="spacingAndGlyphs">100</text>
<line x1="87.30" y1="410.50" x2="90.50" y2="410.50" stroke="#000" stroke-width="1.1" />
<text x="68.70" y="413.00" font-size="8.5" textLength="13.80" lengthAdjust="spacingAndGlyphs">120</text>
<line x1="90.50" y1="471.75" x2="90.50" y2="474.75" stroke="#000" stroke-width="1.1" />
<line x1="115.38" y1="471.75" x2="115.38" y2="474.75" stroke="#000" stroke-width="1.1" />
<line x1="140.25" y1="471.75" x2="140.25" y2="474.75" stroke="#000" stroke-width="1.1" />
<line x1="165.12" y1="471.75" x2="165.12" y2="474.75" stroke="#000" stroke-width="1.1" />
<line x1="190.00" y1="471.75" x2="190.00" y2="474.75" stroke="#000" stroke-width="1.1" />
<text transform="translate(63.00,448.00) rotate(-90)" x="-22.00" y="0" font-size="9" textLength="44.00" lengthAdjust="spacingAndGlyphs">% Viability</text>
<text x="114.30" y="407.60" font-size="9" textLength="58.60" lengthAdjust="spacingAndGlyphs">MDA-MB-231</text>
<text transform="translate(104.70,483.30) rotate(-45)" x="-4.80" y="0" font-size="8.2" textLength="4.80" lengthAdjust="spacingAndGlyphs">U</text>
<text transform="translate(129.70,483.30) rotate(-45)" x="-4.80" y="0" font-size="8.2" textLength="4.80" lengthAdjust="spacingAndGlyphs">D</text>
<text transform="translate(155.40,483.00) rotate(-45)" x="-4.80" y="0" font-size="7.8" textLength="4.80" lengthAdjust="spacingAndGlyphs">1</text>
<text transform="translate(179.40,483.00) rotate(-45)" x="-4.80" y="0" font-size="7.8" textLength="4.80" lengthAdjust="spacingAndGlyphs">5</text>
<line x1="142.00" y1="490.50" x2="190.80" y2="490.50" stroke="#000" stroke-width="1.3" />
<text x="129.80" y="499.80" font-size="8.6" textLength="71.30" lengthAdjust="spacingAndGlyphs">EPZ-5676 (µmol/L)</text>
<rect x="321.02" y="424.92" width="9.20" height="52.08" fill="#000" />
<rect x="349.77" y="428.56" width="9.20" height="48.44" fill="#2a2a2a" />
<rect x="378.88" y="426.57" width="8.50" height="50.43" fill="#a6a6a6" stroke="#777" stroke-width="0.7" />
<rect x="407.62" y="432.04" width="8.50" height="44.96" fill="#e8e8e8" stroke="#222" stroke-width="0.7" />
<line x1="311.25" y1="413.75" x2="311.25" y2="477.60" stroke="#000" stroke-width="1.3" />
<line x1="310.65" y1="477.00" x2="426.85" y2="477.00" stroke="#000" stroke-width="1.3" />
<line x1="308.05" y1="477.00" x2="311.25" y2="477.00" stroke="#000" stroke-width="1.1" />
<text x="302.90" y="479.50" font-size="8.5" textLength="4.60" lengthAdjust="spacingAndGlyphs">0</text>
<line x1="308.05" y1="466.58" x2="311.25" y2="466.58" stroke="#000" stroke-width="1.1" />
<text x="298.30" y="469.08" font-size="8.5" textLength="9.20" lengthAdjust="spacingAndGlyphs">20</text>
<line x1="308.05" y1="456.17" x2="311.25" y2="456.17" stroke="#000" stroke-width="1.1" />
<text x="298.30" y="458.67" font-size="8.5" textLength="9.20" lengthAdjust="spacingAndGlyphs">40</text>
<line x1="308.05" y1="445.75" x2="311.25" y2="445.75" stroke="#000" stroke-width="1.1" />
<text x="298.30" y="448.25" font-size="8.5" textLength="9.20" lengthAdjust="spacingAndGlyphs">60</text>
<line x1="308.05" y1="435.33" x2="311.25" y2="435.33" stroke="#000" stroke-width="1.1" />
<text x="298.30" y="437.83" font-size="8.5" textLength="9.20" lengthAdjust="spacingAndGlyphs">80</text>
<line x1="308.05" y1="424.92" x2="311.25" y2="424.92" stroke="#000" stroke-width="1.1" />
<text x="293.70" y="427.42" font-size="8.5" textLength="13.80" lengthAdjust="spacingAndGlyphs">100</text>
<line x1="308.05" y1="414.50" x2="311.25" y2="414.50" stroke="#000" stroke-width="1.1" />
<text x="293.70" y="417.00" font-size="8.5" textLength="13.80" lengthAdjust="spacingAndGlyphs">120</text>
<line x1="311.25" y1="477.00" x2="311.25" y2="480.00" stroke="#000" stroke-width="1.1" />
<line x1="340.00" y1="477.00" x2="340.00" y2="480.00" stroke="#000" stroke-width="1.1" />
<line x1="368.75" y1="477.00" x2="368.75" y2="480.00" stroke="#000" stroke-width="1.1" />
<line x1="397.50" y1="477.00" x2="397.50" y2="480.00" stroke="#000" stroke-width="1.1" />
<line x1="426.25" y1="477.00" x2="426.25" y2="480.00" stroke="#000" stroke-width="1.1" />
<text transform="translate(283.00,450.50) rotate(-90)" x="-22.00" y="0" font-size="9" textLength="44.00" lengthAdjust="spacingAndGlyphs">% Viability</text>
<text x="335.40" y="409.20" font-size="9" textLength="58.20" lengthAdjust="spacingAndGlyphs">MDA-MB-468</text>
<text transform="translate(328.00,486.50) rotate(-45)" x="-4.80" y="0" font-size="8.2" textLength="4.80" lengthAdjust="spacingAndGlyphs">U</text>
<text transform="translate(356.00,486.50) rotate(-45)" x="-4.80" y="0" font-size="8.2" textLength="4.80" lengthAdjust="spacingAndGlyphs">D</text>
<text transform="translate(384.20,486.30) rotate(-45)" x="-9.60" y="0" font-size="8.2" textLength="9.60" lengthAdjust="spacingAndGlyphs">0.5</text>
<text transform="translate(415.00,486.00) rotate(-45)" x="-4.80" y="0" font-size="8.2" textLength="4.80" lengthAdjust="spacingAndGlyphs">1</text>
<line x1="368.80" y1="497.30" x2="423.00" y2="497.30" stroke="#000" stroke-width="1.3" />
<text x="359.80" y="507.00" font-size="8.6" textLength="71.30" lengthAdjust="spacingAndGlyphs">EPZ-5676 (µmol/L)</text>
<rect x="76.25" y="541.59" width="6.00" height="46.71" fill="#000" />
<rect x="83.30" y="563.16" width="5.40" height="25.14" fill="#868686" stroke="#444" stroke-width="0.6" />
<rect x="90.05" y="582.24" width="5.40" height="6.06" fill="#dcdcdc" stroke="#333" stroke-width="0.6" />
<rect x="106.50" y="542.99" width="6.00" height="45.31" fill="#000" />
<rect x="113.55" y="562.36" width="5.40" height="25.93" fill="#868686" stroke="#444" stroke-width="0.6" />
<rect x="120.30" y="581.44" width="5.40" height="6.85" fill="#dcdcdc" stroke="#333" stroke-width="0.6" />
<rect x="136.75" y="537.90" width="6.00" height="50.40" fill="#000" />
<rect x="143.80" y="566.34" width="5.40" height="21.96" fill="#868686" stroke="#444" stroke-width="0.6" />
<rect x="150.55" y="582.40" width="5.40" height="5.90" fill="#dcdcdc" stroke="#333" stroke-width="0.6" />
<rect x="167.00" y="539.81" width="6.00" height="48.49" fill="#000" />
<rect x="174.05" y="565.94" width="5.40" height="22.36" fill="#868686" stroke="#444" stroke-width="0.6" />
<rect x="180.80" y="580.65" width="5.40" height="7.65" fill="#dcdcdc" stroke="#333" stroke-width="0.6" />
<line x1="71.25" y1="523.60" x2="71.25" y2="588.90" stroke="#000" stroke-width="1.3" />
<line x1="70.65" y1="588.30" x2="191.85" y2="588.30" stroke="#000" stroke-width="1.3" />
<line x1="68.05" y1="588.30" x2="71.25" y2="588.30" stroke="#000" stroke-width="1.1" />
<text x="61.70" y="591.30" font-size="8.5" textLength="4.60" lengthAdjust="spacingAndGlyphs">0</text>
<line x1="68.05" y1="572.40" x2="71.25" y2="572.40" stroke="#000" stroke-width="1.1" />
<text x="57.10" y="575.40" font-size="8.5" textLength="9.20" lengthAdjust="spacingAndGlyphs">20</text>
<line x1="68.05" y1="556.50" x2="71.25" y2="556.50" stroke="#000" stroke-width="1.1" />
<text x="57.10" y="559.50" font-size="8.5" textLength="9.20" lengthAdjust="spacingAndGlyphs">40</text>
<line x1="68.05" y1="540.60" x2="71.25" y2="540.60" stroke="#000" stroke-width="1.1" />
<text x="57.10" y="543.60" font-size="8.5" textLength="9.20" lengthAdjust="spacingAndGlyphs">60</text>
<line x1="68.05" y1="524.70" x2="71.25" y2="524.70" stroke="#000" stroke-width="1.1" />
<text x="57.10" y="527.70" font-size="8.5" textLength="9.20" lengthAdjust="spacingAndGlyphs">80</text>
<line x1="71.25" y1="588.30" x2="71.25" y2="591.30" stroke="#000" stroke-width="1.1" />
<line x1="101.25" y1="588.30" x2="101.25" y2="591.30" stroke="#000" stroke-width="1.1" />
<line x1="131.25" y1="588.30" x2="131.25" y2="591.30" stroke="#000" stroke-width="1.1" />
<line x1="161.25" y1="588.30" x2="161.25" y2="591.30" stroke="#000" stroke-width="1.1" />
<line x1="191.25" y1="588.30" x2="191.25" y2="591.30" stroke="#000" stroke-width="1.1" />
<text transform="translate(52.00,551.50) rotate(-90)" x="-14.50" y="0" font-size="9" textLength="29.00" lengthAdjust="spacingAndGlyphs">% Cells</text>
<text x="103.30" y="523.60" font-size="9" textLength="58.00" lengthAdjust="spacingAndGlyphs">MDA-MB-231</text>
<text transform="translate(86.40,599.50) rotate(-45)" x="-5.28" y="0" font-size="9.2" textLength="5.28" lengthAdjust="spacingAndGlyphs">U</text>
<text transform="translate(117.90,599.50) rotate(-45)" x="-5.28" y="0" font-size="9.2" textLength="5.28" lengthAdjust="spacingAndGlyphs">D</text>
<text transform="translate(149.30,598.50) rotate(-45)" x="-5.28" y="0" font-size="9.2" textLength="5.28" lengthAdjust="spacingAndGlyphs">1</text>
<text transform="translate(178.80,598.50) rotate(-45)" x="-5.28" y="0" font-size="9.2" textLength="5.28" lengthAdjust="spacingAndGlyphs">5</text>
<line x1="138.80" y1="603.00" x2="188.00" y2="603.00" stroke="#000" stroke-width="1.3" />
<text x="127.50" y="612.80" font-size="8.5" textLength="72.00" lengthAdjust="spacingAndGlyphs">EPZ-5676 (µmol/L)</text>
<rect x="195.50" y="519.50" width="5.20" height="5.20" fill="#000" />
<rect x="195.80" y="529.80" width="4.60" height="4.60" fill="#868686" stroke="#333" stroke-width="0.8" />
<rect x="195.80" y="540.30" width="4.60" height="4.60" fill="#dcdcdc" stroke="#333" stroke-width="0.8" />
<text x="203" y="524.8" font-size="8.8">G<tspan dy="2.3" font-size="6.6">1</tspan></text>
<text x="203.00" y="534.50" font-size="8.8">S</text>
<text x="203" y="545" font-size="8.8" textLength="22.5" lengthAdjust="spacingAndGlyphs">G<tspan dy="2.3" font-size="6.6">2</tspan><tspan dy="-2.3">–M</tspan></text>
<rect x="318.75" y="545.00" width="7.00" height="45.00" fill="#000" />
<line x1="322.25" y1="543.28" x2="322.25" y2="545.00" stroke="#777" stroke-width="0.7" />
<line x1="320.45" y1="543.28" x2="324.05" y2="543.28" stroke="#777" stroke-width="0.7" />
<rect x="327.65" y="564.83" width="6.40" height="25.17" fill="#868686" stroke="#444" stroke-width="0.6" />
<line x1="330.85" y1="563.75" x2="330.85" y2="564.53" stroke="#777" stroke-width="0.7" />
<line x1="329.05" y1="563.75" x2="332.65" y2="563.75" stroke="#777" stroke-width="0.7" />
<rect x="336.25" y="582.10" width="6.40" height="7.90" fill="#dcdcdc" stroke="#333" stroke-width="0.6" />
<line x1="339.45" y1="581.33" x2="339.45" y2="581.80" stroke="#777" stroke-width="0.7" />
<line x1="337.65" y1="581.33" x2="341.25" y2="581.33" stroke="#777" stroke-width="0.7" />
<rect x="351.25" y="544.69" width="7.00" height="45.31" fill="#000" />
<line x1="354.75" y1="542.34" x2="354.75" y2="544.69" stroke="#777" stroke-width="0.7" />
<line x1="352.95" y1="542.34" x2="356.55" y2="542.34" stroke="#777" stroke-width="0.7" />
<rect x="360.15" y="565.30" width="6.40" height="24.70" fill="#868686" stroke="#444" stroke-width="0.6" />
<line x1="363.35" y1="563.44" x2="363.35" y2="565.00" stroke="#777" stroke-width="0.7" />
<line x1="361.55" y1="563.44" x2="365.15" y2="563.44" stroke="#777" stroke-width="0.7" />
<rect x="368.75" y="582.10" width="6.40" height="7.90" fill="#dcdcdc" stroke="#333" stroke-width="0.6" />
<line x1="371.95" y1="581.41" x2="371.95" y2="581.80" stroke="#777" stroke-width="0.7" />
<line x1="370.15" y1="581.41" x2="373.75" y2="581.41" stroke="#777" stroke-width="0.7" />
<rect x="383.75" y="543.91" width="7.00" height="46.09" fill="#000" />
<line x1="387.25" y1="542.34" x2="387.25" y2="543.91" stroke="#777" stroke-width="0.7" />
<line x1="385.45" y1="542.34" x2="389.05" y2="542.34" stroke="#777" stroke-width="0.7" />
<rect x="392.65" y="566.47" width="6.40" height="23.53" fill="#868686" stroke="#444" stroke-width="0.6" />
<line x1="395.85" y1="565.55" x2="395.85" y2="566.17" stroke="#777" stroke-width="0.7" />
<line x1="394.05" y1="565.55" x2="397.65" y2="565.55" stroke="#777" stroke-width="0.7" />
<rect x="401.25" y="581.86" width="6.40" height="8.14" fill="#dcdcdc" stroke="#333" stroke-width="0.6" />
<line x1="404.45" y1="581.09" x2="404.45" y2="581.56" stroke="#777" stroke-width="0.7" />
<line x1="402.65" y1="581.09" x2="406.25" y2="581.09" stroke="#777" stroke-width="0.7" />
<rect x="416.25" y="543.12" width="7.00" height="46.88" fill="#000" />
<line x1="419.75" y1="541.88" x2="419.75" y2="543.12" stroke="#777" stroke-width="0.7" />
<line x1="417.95" y1="541.88" x2="421.55" y2="541.88" stroke="#777" stroke-width="0.7" />
<rect x="425.15" y="566.55" width="6.40" height="23.45" fill="#868686" stroke="#444" stroke-width="0.6" />
<line x1="428.35" y1="565.86" x2="428.35" y2="566.25" stroke="#777" stroke-width="0.7" />
<line x1="426.55" y1="565.86" x2="430.15" y2="565.86" stroke="#777" stroke-width="0.7" />
<rect x="433.75" y="581.71" width="6.40" height="8.29" fill="#dcdcdc" stroke="#333" stroke-width="0.6" />
<line x1="436.95" y1="581.02" x2="436.95" y2="581.41" stroke="#777" stroke-width="0.7" />
<line x1="435.15" y1="581.02" x2="438.75" y2="581.02" stroke="#777" stroke-width="0.7" />
<line x1="313.75" y1="526.25" x2="313.75" y2="590.60" stroke="#000" stroke-width="1.3" />
<line x1="313.15" y1="590.00" x2="445.10" y2="590.00" stroke="#000" stroke-width="1.3" />
<line x1="310.55" y1="590.00" x2="313.75" y2="590.00" stroke="#000" stroke-width="1.1" />
<text x="304.90" y="593.00" font-size="8.5" textLength="4.60" lengthAdjust="spacingAndGlyphs">0</text>
<line x1="310.55" y1="574.38" x2="313.75" y2="574.38" stroke="#000" stroke-width="1.1" />
<text x="300.30" y="577.38" font-size="8.5" textLength="9.20" lengthAdjust="spacingAndGlyphs">20</text>
<line x1="310.55" y1="558.75" x2="313.75" y2="558.75" stroke="#000" stroke-width="1.1" />
<text x="300.30" y="561.75" font-size="8.5" textLength="9.20" lengthAdjust="spacingAndGlyphs">40</text>
<line x1="310.55" y1="543.12" x2="313.75" y2="543.12" stroke="#000" stroke-width="1.1" />
<text x="300.30" y="546.12" font-size="8.5" textLength="9.20" lengthAdjust="spacingAndGlyphs">60</text>
<line x1="310.55" y1="527.50" x2="313.75" y2="527.50" stroke="#000" stroke-width="1.1" />
<text x="300.30" y="530.50" font-size="8.5" textLength="9.20" lengthAdjust="spacingAndGlyphs">80</text>
<line x1="313.75" y1="590.00" x2="313.75" y2="593.00" stroke="#000" stroke-width="1.1" />
<line x1="346.44" y1="590.00" x2="346.44" y2="593.00" stroke="#000" stroke-width="1.1" />
<line x1="379.12" y1="590.00" x2="379.12" y2="593.00" stroke="#000" stroke-width="1.1" />
<line x1="411.81" y1="590.00" x2="411.81" y2="593.00" stroke="#000" stroke-width="1.1" />
<line x1="444.50" y1="590.00" x2="444.50" y2="593.00" stroke="#000" stroke-width="1.1" />
<text transform="translate(297.00,556.50) rotate(-90)" x="-14.50" y="0" font-size="9" textLength="29.00" lengthAdjust="spacingAndGlyphs">% Cells</text>
<text x="0.00" y="0.00" font-size="9" textLength="0.00" lengthAdjust="spacingAndGlyphs"></text>
<text x="356.30" y="526.30" font-size="9.6" textLength="58.50" lengthAdjust="spacingAndGlyphs">MDA-MB-468</text>
<text transform="translate(332.50,600.00) rotate(-45)" x="-4.80" y="0" font-size="8.6" textLength="4.80" lengthAdjust="spacingAndGlyphs">U</text>
<text transform="translate(365.30,599.50) rotate(-45)" x="-4.80" y="0" font-size="8.6" textLength="4.80" lengthAdjust="spacingAndGlyphs">D</text>
<text transform="translate(399.20,599.30) rotate(-45)" x="-10.75" y="0" font-size="8.8" textLength="10.75" lengthAdjust="spacingAndGlyphs">0.5</text>
<text transform="translate(430.60,598.80) rotate(-45)" x="-4.80" y="0" font-size="8.6" textLength="4.80" lengthAdjust="spacingAndGlyphs">1</text>
<line x1="381.80" y1="610.00" x2="441.30" y2="610.00" stroke="#000" stroke-width="1.3" />
<text x="376.00" y="619.30" font-size="9" textLength="73.50" lengthAdjust="spacingAndGlyphs">EPZ-5676 (µmol/L)</text>
<rect x="449.50" y="520.50" width="5.40" height="5.40" fill="#000" />
<rect x="449.80" y="532.30" width="4.80" height="4.80" fill="#868686" stroke="#333" stroke-width="0.8" />
<rect x="449.80" y="543.30" width="4.80" height="4.80" fill="#dcdcdc" stroke="#333" stroke-width="0.8" />
<text x="457" y="526.3" font-size="8.8">G<tspan dy="2.3" font-size="6.6">1</tspan></text>
<text x="457.00" y="537.50" font-size="8.8">S</text>
<text x="457" y="548" font-size="8.8" textLength="22.5" lengthAdjust="spacingAndGlyphs">G<tspan dy="2.3" font-size="6.6">2</tspan><tspan dy="-2.3">–M</tspan></text>
<text x="115.00" y="177.00" font-size="8.4" textLength="72.00" lengthAdjust="spacingAndGlyphs">EPZ-5676 (µmol/L)</text>
<text x="365.00" y="177.00" font-size="8.4" textLength="72.00" lengthAdjust="spacingAndGlyphs">EPZ-5676 (µmol/L)</text>
</svg>
</body></html>
